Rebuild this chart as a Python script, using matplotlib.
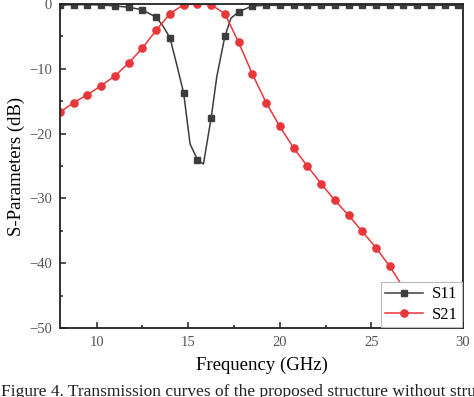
import matplotlib
matplotlib.use('Agg')
import matplotlib.pyplot as plt
from matplotlib.ticker import MultipleLocator

plt.rcParams['font.family'] = ['Liberation Serif', 'DejaVu Serif']

# frequency points carrying markers (GHz)
freq = [8.0, 8.75, 9.5, 10.25, 11.0, 11.75, 12.5, 13.25, 14.0, 14.75,
        15.5, 16.25, 17.0, 17.75, 18.5, 19.25, 20.0, 20.75, 21.5, 22.25,
        23.0, 23.75, 24.5, 25.25, 26.0, 26.75, 27.5, 28.25, 29.0, 29.75]

s11 = [-0.2, -0.1, -0.1, -0.15, -0.3, -0.5, -0.9, -2.05, -5.2, -13.75,
       -24.0, -17.6, -5.0, -1.2, -0.3, -0.2, -0.2, -0.2, -0.2, -0.2,
       -0.2, -0.2, -0.2, -0.2, -0.2, -0.2, -0.2, -0.2, -0.2, -0.2]

s21 = [-16.7, -15.2, -14.0, -12.6, -11.1, -9.1, -6.8, -4.05, -1.5, -0.1,
       0.0, -0.1, -1.5, -5.9, -10.8, -15.2, -18.9, -22.2, -25.0, -27.7,
       -30.3, -32.6, -35.1, -37.6, -40.5, -43.8, -48.0, -53.0, -51.5, -44.0]

# extra points read along the S11 curve between markers (dip shape)
freq_s11_extra = [13.6, 14.35, 15.1, 15.83, 16.56, 17.33]
s11_extra = [-3.3, -9.1, -21.6, -24.7, -11.2, -2.2]

pts = sorted([(f, v, True) for f, v in zip(freq, s11)] +
             [(f, v, False) for f, v in zip(freq_s11_extra, s11_extra)])
f11 = [p[0] for p in pts]
v11 = [p[1] for p in pts]
mark11 = [i for i, p in enumerate(pts) if p[2]]

c11 = '#3d3d3d'
c21 = '#e8373a'

fig = plt.figure(figsize=(4.74, 3.97), dpi=100)
ax = fig.add_axes([0.1266, 0.1738, 0.8502, 0.8161])

ax.plot(f11, v11, color=c11, lw=1.1, marker='s', ms=4.6,
        markevery=mark11, label='S11')
ax.plot(freq, s21, color=c21, lw=1.1, marker='o', ms=5.2, label='S21')

ax.set_xlim(8, 30)
ax.set_ylim(-50, 0)
ax.xaxis.set_major_locator(MultipleLocator(5))
ax.xaxis.set_minor_locator(MultipleLocator(2.5))
ax.yaxis.set_major_locator(MultipleLocator(10))
ax.yaxis.set_minor_locator(MultipleLocator(5))
ax.set_xticks([10, 15, 20, 25, 30])

ax.tick_params(which='both', direction='in', top=False, right=False,
               labelsize=10.5, colors='#222222', pad=6, width=1.1)
ax.tick_params(which='major', length=4)
ax.tick_params(which='minor', length=2.5)
ax.tick_params(axis='x', labelcolor='#555555')
ax.tick_params(axis='y', labelcolor='#555555')
for s in ax.spines.values():
    s.set_linewidth(1.3)
    s.set_color('#222222')

ax.set_xlabel('Frequency (GHz)', fontsize=13.5, labelpad=5)
ax.set_ylabel('S-Parameters (dB)', fontsize=13.5, labelpad=3)

leg = ax.legend(loc='lower right', fontsize=12, borderaxespad=0.08,
                fancybox=False, framealpha=1, edgecolor='#bbbbbb',
                handlelength=2.3, borderpad=0.25, labelspacing=0.25,
                handletextpad=0.5)
leg.get_frame().set_linewidth(0.8)

fig.text(0.002, 1 - 384 / 397,
         'Figure 4. Transmission curves of the proposed structure without structure',
         fontsize=12.5, va='top', ha='left', color='#222222')

fig.savefig('out.png', dpi=100)
